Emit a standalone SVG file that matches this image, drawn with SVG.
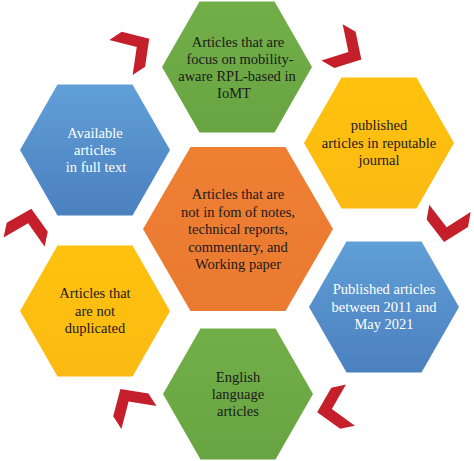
<svg xmlns="http://www.w3.org/2000/svg" width="474" height="461" viewBox="0 0 474 461">
<defs>
<linearGradient id="gBlue" x1="0" y1="0" x2="0" y2="1">
<stop offset="0" stop-color="#619fd8"/>
<stop offset="1" stop-color="#4a80be"/>
</linearGradient>
<linearGradient id="gGreen" x1="0" y1="0" x2="0" y2="1">
<stop offset="0" stop-color="#72ae48"/>
<stop offset="1" stop-color="#68a542"/>
</linearGradient>
<linearGradient id="gYellow" x1="0" y1="0" x2="0" y2="1">
<stop offset="0" stop-color="#ffc20e"/>
<stop offset="1" stop-color="#fbba12"/>
</linearGradient>
<linearGradient id="gOrange" x1="0" y1="0" x2="0" y2="1">
<stop offset="0" stop-color="#ef7f33"/>
<stop offset="1" stop-color="#ea7a30"/>
</linearGradient>
<polygon id="chevShape" points="-17,-21 -2,-21 17,0 -2,21 -17,21 2,0"/>
<style>
.blue{fill:url(#gBlue)}
.green{fill:url(#gGreen)}
.yellow{fill:url(#gYellow)}
.orange{fill:url(#gOrange)}
.chev{fill:#c41f2b}
text{font-family:"Liberation Serif","Times New Roman",serif;font-size:14.5px;text-anchor:middle}
.dark{fill:#1a1a1a}
.light{fill:#ffffff}
</style>
</defs>
<rect width="474" height="461" fill="#ffffff"/>
<g id="connectors">
<use href="#chevShape" class="chev" transform="translate(135.1,48.1) rotate(-33.7)"/>
<use href="#chevShape" class="chev" transform="translate(346.7,50.9) rotate(30.4)"/>
<use href="#chevShape" class="chev" transform="translate(447,225.2) rotate(100)"/>
<use href="#chevShape" class="chev" transform="translate(333.8,408.7) rotate(167.8)"/>
<use href="#chevShape" class="chev" transform="translate(129.7,403.2) rotate(-123.1)"/>
<use href="#chevShape" class="chev" transform="translate(27.7,225.3) rotate(-77.7)"/>
</g>
<g id="node-top">
<polygon class="green" points="162,67 199.5,1.5 274.5,1.5 312,67 274.5,132.5 199.5,132.5"/>
<text class="dark" x="238" y="47">Articles that are</text>
<text class="dark" x="240" y="64">focus on  mobility-</text>
<text class="dark" x="237" y="81">aware RPL-based in</text>
<text class="dark" x="234" y="98">IoMT</text>
</g>
<g id="node-upper-right">
<polygon class="yellow" points="304,143 341.5,77.5 416.5,77.5 454,143 416.5,208.5 341.5,208.5"/>
<text class="dark" x="379" y="130">published</text>
<text class="dark" x="379" y="147.5">articles  in reputable</text>
<text class="dark" x="379" y="164.5">journal</text>
</g>
<g id="node-lower-right">
<polygon class="blue" points="309,307 346.5,241.5 421.5,241.5 459,307 421.5,372.5 346.5,372.5"/>
<text class="light" x="384" y="294">Published articles</text>
<text class="light" x="384" y="311.5">between  2011 and</text>
<text class="light" x="384" y="329">May 2021</text>
</g>
<g id="node-bottom">
<polygon class="green" points="163,394 200.5,328.5 275.5,328.5 313,394 275.5,459.5 200.5,459.5"/>
<text class="dark" x="238" y="381.5">English</text>
<text class="dark" x="238" y="398.5">language</text>
<text class="dark" x="238" y="416">articles</text>
</g>
<g id="node-lower-left">
<polygon class="yellow" points="20,311 57.5,245.5 132.5,245.5 170,311 132.5,376.5 57.5,376.5"/>
<text class="dark" x="95" y="298">Articles that</text>
<text class="dark" x="95" y="315.5">are not</text>
<text class="dark" x="95" y="333">duplicated</text>
</g>
<g id="node-upper-left">
<polygon class="blue" points="20,150 57.5,84.5 132.5,84.5 170,150 132.5,215.5 57.5,215.5"/>
<text class="light" x="95" y="137.5">Available</text>
<text class="light" x="95" y="155">articles</text>
<text class="light" x="96" y="172">in full text</text>
</g>
<g id="node-center">
<polygon class="orange" points="143,229 190.5,147 285.5,147 333,229 285.5,311 190.5,311"/>
<text class="dark" x="238" y="199">Articles that are</text>
<text class="dark" x="238" y="216.5">not in fom of  notes,</text>
<text class="dark" x="238" y="234">technical reports,</text>
<text class="dark" x="238" y="251.5">commentary, and</text>
<text class="dark" x="238" y="269">Working paper</text>
</g>
</svg>
